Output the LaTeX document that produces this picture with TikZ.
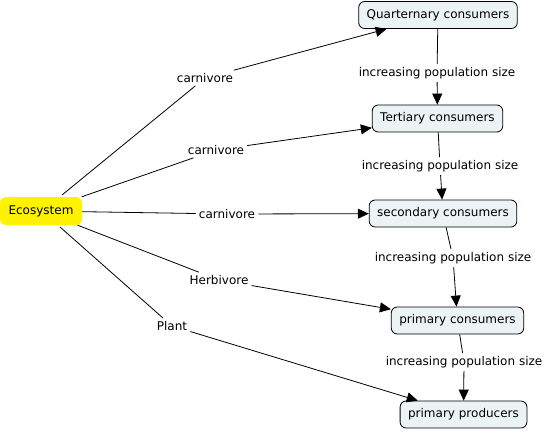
\documentclass[tikz,border=0pt]{standalone}
\usepackage{fontspec}
\setmainfont{DejaVu Sans}
\usetikzlibrary{arrows.meta}
\definecolor{boxfill}{RGB}{236,243,245}
\tikzset{
  concept/.style={draw=black, line width=0.8pt, rounded corners=6pt, fill=boxfill, minimum height=27pt, inner xsep=8pt, inner ysep=2pt, font=\fontsize{12}{14}\selectfont},
  root/.style={fill=yellow, rounded corners=6pt, minimum height=28pt, minimum width=82pt, inner xsep=4pt, font=\fontsize{12}{14}\selectfont},
  lbl/.style={inner sep=3pt, font=\fontsize{12}{14}\selectfont},
  link/.style={line width=0.8pt},
  arr/.style={line width=0.8pt, -{Triangle[length=11pt,width=10pt]}}
}
\begin{document}
\begin{tikzpicture}[x=1pt,y=1pt]
\useasboundingbox (0,0) rectangle (544,-432);
\node[root] (eco) at (41,-211) {Ecosystem};
\node[concept] (q) at (438,-15) {Quarternary consumers};
\node[concept] (t) at (437.5,-118.5) {Tertiary consumers};
\node[concept] (s) at (443,-213.5) {secondary consumers};
\node[concept] (pc) at (457.5,-320.5) {primary consumers};
\node[concept] (pp) at (463.5,-414.5) {primary producers};

\node[lbl] (c1) at (205,-78) {carnivore};
\node[lbl] (c2) at (216,-150) {carnivore};
\node[lbl] (c3) at (227,-214) {carnivore};
\node[lbl] (hb) at (219,-280) {Herbivore};
\node[lbl] (pl) at (172,-326) {Plant};

\node[lbl] (i1) at (437,-73) {increasing population size};
\node[lbl] (i2) at (440,-166) {increasing population size};
\node[lbl] (i3) at (453,-258) {increasing population size};
\node[lbl] (i4) at (464,-362) {increasing population size};

\coordinate (ea) at (62,-195);
\coordinate (eb) at (60,-227);
\draw[link] (ea) -- (c1);
\draw[link] (eco) -- (c2);
\draw[link] (eco) -- (c3);
\draw[link] (eco) -- (hb);
\draw[link] (eb) -- (pl);

\draw[arr] (c1) -- (q);
\draw[arr] (c2) -- (t);
\draw[arr] (c3) -- (s);
\draw[arr] (hb) -- (pc);
\draw[arr] (pl) -- (pp);

\draw[link] (q) -- (i1);
\draw[arr] (i1) -- (t);
\draw[link] (t) -- (i2);
\draw[arr] (i2) -- (s);
\draw[link] (s) -- (i3);
\draw[arr] (i3) -- (pc);
\draw[link] (pc) -- (i4);
\draw[arr] (i4) -- (pp);
\end{tikzpicture}
\end{document}
